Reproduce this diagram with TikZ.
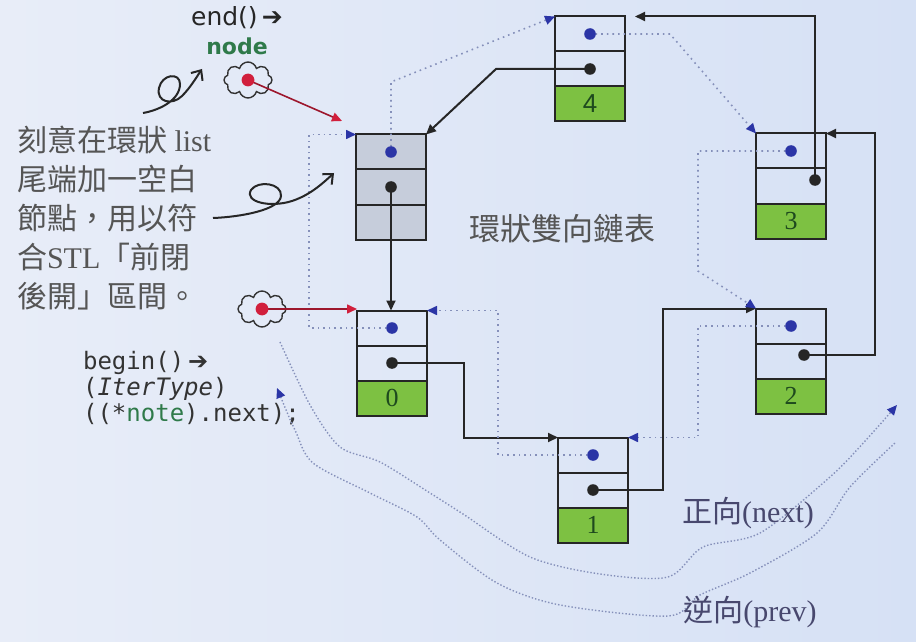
\documentclass[tikz,border=0pt]{standalone}
\usepackage{fontspec}
\setmainfont{Liberation Serif}
\setsansfont{DejaVu Sans}
\setmonofont{DejaVu Sans Mono}
\newfontfamily\cjk{Noto Sans CJK TC}
\newfontfamily\symb{DejaVu Sans}
\newfontfamily\numsans{Liberation Sans}
\usetikzlibrary{arrows.meta, shapes.symbols, positioning, calc}
\definecolor{PageLight}{HTML}{E8EDF8}
\definecolor{PageBlue}{HTML}{D6E1F5}
\definecolor{CellGreen}{HTML}{7DC142}
\definecolor{CellGray}{HTML}{C6CDDB}
\definecolor{LinkBlue}{HTML}{2B35A6}
\definecolor{DotLine}{HTML}{8590BA}
\definecolor{PtrRed}{HTML}{D11F3C}
\definecolor{InkGray}{HTML}{555555}
\definecolor{NodeGreen}{HTML}{2F7A4A}
\definecolor{DigitGreen}{HTML}{1E4A1E}
\newcommand{\LabelFont}{\fontsize{15}{19.4}\selectfont}

\begin{document}
\begin{tikzpicture}[x=0.5pt, y=-0.5pt,
  cell/.style={draw=black!85, line width=1pt, minimum width=35pt,
    minimum height=17.5pt, inner sep=0pt, outer sep=0pt},
  datacell/.style={cell, fill=CellGreen, text=DigitGreen,
    font=\fontsize{13}{13}\selectfont},
  graycell/.style={cell, fill=CellGray},
  nxt/.style={draw=black!85, line width=1pt, -{Triangle[length=5pt,width=4.5pt]}},
  prv/.style={draw=DotLine, line width=0.8pt, dotted,
    -{Triangle[length=5pt,width=4.5pt,color=LinkBlue]}},
  ptr/.style={draw=PtrRed!75!black, line width=0.8pt,
    -{Triangle[length=5pt,width=4.5pt,color=PtrRed]}},
  wave/.style={draw=DotLine, line width=0.7pt, densely dotted},
  puff/.style={cloud, cloud puffs=8, cloud ignores aspect, draw=black!80,
    line width=0.7pt, minimum width=24pt, minimum height=18pt, inner sep=0pt},
  curl/.style={draw=black!85, line width=1pt, -{Straight Barb[length=4pt,width=7pt]}},
]
  % page
  \shade[left color=PageLight, right color=PageBlue] (0,0) rectangle (916,642);
  \useasboundingbox (0,0) rectangle (916,642);

  % list nodes
  \foreach \nm/\x/\y/\lab in {n0/392/328/0, n1/593/455/1, n2/791/326/2,
      n3/791/151/3, n4/590/34/{\numsans 4}} {
    \node[cell] (\nm p) at (\x,\y) {};
    \node[cell, below=0pt of \nm p] (\nm n) {};
    \node[datacell, below=0pt of \nm n] (\nm d) {\lab};
  }
  % the empty node at the tail
  \node[graycell] (gp) at (391,152) {};
  \node[graycell, below=0pt of gp] (gn) {};
  \node[graycell, below=0pt of gn] (gd) {};
  \coordinate (n2x) at ($(n2n.center)+(13,-6)$);
  \coordinate (n3x) at ($(n3n.center)+(24,-6)$);

  % next links
  \draw[nxt] (gn.center) -- (gn.center |- n0p.north);
  \draw[nxt] (n0n.center) -- ++(72,0) |- (n1p.north west);
  \draw[nxt] (n1n.center) -- ++(70,0) |- (n2p.north west);
  \draw[nxt] (n2x) -- ++(71,0) |- (n3p.north east);
  \draw[nxt, shorten >=5pt] (n3x) |- (n4p.north east);
  \draw[nxt] (n4n.center) -- ++(-94,0) -- (gp.north east);

  % prev links
  \draw[prv] (gp.center) -- ++(0,-70) -- (n4p.north west);
  \draw[prv] (n4p.center) -- ++(80,0) -- (n3p.north west);
  \draw[prv] (n3p.center) -- ++(-93,0) -- ++(0,120) -- (n2p.north west);
  \draw[prv] (n2p.center) -- ++(-93,0) |- (n1p.north east);
  \draw[prv] (n1p.center) -- ++(-95,0) |- (n0p.north east);
  \draw[prv] (n0p.center) -- ++(-83,0) |- (gp.north west);

  % dots
  \foreach \nm in {g, n0, n1, n2, n3, n4} \fill[LinkBlue] (\nm p.center) circle (2.9pt);
  \foreach \d in {gn.center, n0n.center, n1n.center, n2x, n3x, n4n.center}
    \fill[black!85] (\d) circle (2.9pt);

  % end() and begin() pointers
  \node[puff] (endcloud) at (248,80) {};
  \node[puff] (begincloud) at (262,309) {};
  \coordinate (endtip) at (342,121);
  \draw[ptr] (endcloud.center) -- (endtip);
  \draw[ptr] (begincloud.center) -- (begincloud.center -| n0p.north west);
  \fill[PtrRed] (endcloud.center) circle (3.2pt);
  \fill[PtrRed] (begincloud.center) circle (3.2pt);

  \node[font=\sffamily\fontsize{12.5}{12.5}\selectfont, text=black!85] (endlbl)
    at (237,18) {end()\,{\symb\bfseries ➔}};
  \node[font=\sffamily\bfseries\fontsize{11}{11}\selectfont, text=NodeGreen] (nodelbl)
    at (237,46) {node};
  \node[font=\ttfamily\fontsize{12}{13}\selectfont, text=black!80, align=left,
    anchor=west] (beginlbl) at (76,388)
    {begin()\,{\symb\bfseries ➔}\\({\itshape IterType})\\((*{\color{NodeGreen}note}).next);};

  % remark on the left
  \node[font=\LabelFont, text=InkGray, align=left, anchor=west] (remark) at (10,218)
    {{\cjk 刻意在環狀} list\\{\cjk 尾端加一空白}\\{\cjk 節點，用以符}\\
     {\cjk 合}STL{\cjk 「前閉}\\{\cjk 後開」區間。}};
  \draw[curl] (143,113) .. controls (160,110) and (180,100) .. (180,84)
    .. controls (180,72) and (162,74) .. (159,88)
    .. controls (156,102) and (172,106) .. (182,96)
    .. controls (190,88) and (196,78) .. (202,69);
  \draw[curl] (213,218) .. controls (240,217) and (280,210) .. (281,196)
    .. controls (282,183) and (258,180) .. (251,190)
    .. controls (244,202) and (270,208) .. (292,201)
    .. controls (310,195) and (322,184) .. (334,173);

  \node[font=\fontsize{15.5}{15.5}\selectfont\cjk, text=InkGray] (title)
    at (562,229) {環狀雙向鏈表};

  % traversal directions
  \draw[wave, -{Triangle[length=5pt,width=4.5pt,color=LinkBlue]}] plot[smooth] coordinates
    {(280,342) (310,405) (340,447) (380,462) (430,493) (463,514) (530,557)
     (600,574) (668,577) (703,547) (760,533) (830,477) (866,440) (897,405)};
  \draw[wave, {Triangle[length=5pt,width=4.5pt,color=LinkBlue]}-] plot[smooth] coordinates
    {(277,388) (295,430) (313,463) (370,493) (417,517) (440,540) (497,583)
     (560,605) (668,616) (700,595) (750,573) (817,533) (850,487) (895,443)};
  \node[font=\fontsize{15}{15}\selectfont, text=InkGray!85!blue] (nextlbl) at (748,513)
    {{\cjk 正向}(next)};
  \node[font=\fontsize{15}{15}\selectfont, text=InkGray!85!blue] (prevlbl) at (750,612)
    {{\cjk 逆向}(prev)};
\end{tikzpicture}
\end{document}
